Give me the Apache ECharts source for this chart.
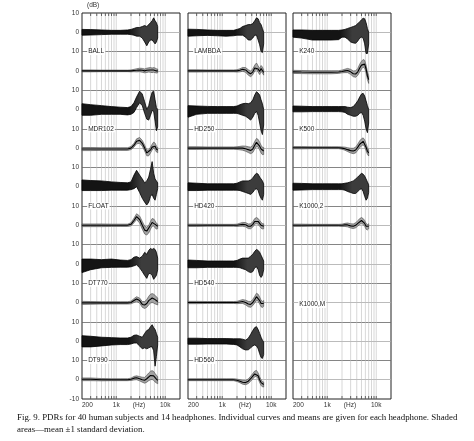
<!DOCTYPE html>
<html><head><meta charset="utf-8">
<script src="https://cdn.jsdelivr.net/npm/echarts@6/dist/echarts.min.js"></script>
<style>html,body{margin:0;padding:0;background:#fff}#c{width:474px;height:441px}</style>
</head><body><div id="c"></div>
<script>
// ---------- data ----------
const freqs = [200,300,500,800,1200,1700,2000,2300,2600,3000,3400,3800,4200,4600,5000,5400,5800,6200,6600,7000];
const gridFreqs = [300,400,500,600,700,800,900,1000,2000,3000,4000,5000,6000,7000,8000,9000,10000];
const xTickLabels = {200:'200',1000:'1k',10000:'10k'};
const columnNames = [
  ['BALL','MDR102','FLOAT','DT770','DT990'],
  ['LAMBDA','HD250','HD420','HD540','HD560'],
  ['K240','K500','K1000,2','K1000,M']
];
const captionLine1 = 'Fig. 9. PDRs for 40 human subjects and 14 headphones. Individual curves and means are given for each headphone. Shaded';
const captionLine2 = 'areas\u2014mean \u00b11 standard deviation.';

const ballHi   = [1.5,1.4,1.2,1.0,1.0,1.2,1.5,2.0,2.5,2.5,3.0,3.5,3.0,4.0,5.0,6.0,7.5,6.0,5.0,3.0];
const ballLo   = [-1.5,-1.4,-1.2,-1.0,-1.0,-1.0,-1.2,-1.5,-2.0,-2.0,-3.0,-5.0,-7.0,-5.0,-4.0,-4.0,-5.0,-6.0,-5.0,-3.0];
const ballMean = [0,0,0,0,0,0,0,0.2,0.3,0.5,0.3,0,0.3,0.5,0.5,0.3,0.5,0.3,0,0];
const ballSd   = [0.5,0.5,0.4,0.4,0.4,0.4,0.5,0.6,0.8,0.9,1.0,1.0,1.1,1.1,1.2,1.2,1.2,1.2,1.1,1.0];

const mdrHi   = [3,2.5,2,1.5,1.2,1,1.5,3.5,6.5,9.5,8,4,0,2,6,9,9.5,5,1,0];
const mdrLo   = [-3,-3,-2.5,-2.5,-2.5,-2.8,-2.5,-1.5,1,3.5,2,-2,-5,-5.5,-3,-0.5,-1,-6,-11,-9];
const mdrMean = [-0.5,-0.5,-0.5,-0.5,-0.5,-0.5,0,1.5,3.5,4,2.5,0,-2.5,-2.5,-1,0.5,1.5,1,-0.5,-1];
const mdrSd   = [0.8,0.8,0.7,0.7,0.7,0.7,0.8,1,1.3,1.5,1.5,1.5,1.5,1.5,1.5,1.5,1.6,1.6,1.5,1.4];

const floatHi   = [3.5,3.2,3,2.5,2.2,2,2.5,6,8.5,6,4,2,3,5,9,13,7,4,3,2];
const floatLo   = [-2,-2,-2,-1.8,-1.8,-1.8,-1.5,-1,0,-3,-6,-8,-9.5,-8,-5,-4,-6,-7,-4,-1];
const floatMean = [0,0,0,0,0,0,0.5,2.5,4.5,3,0,-2.5,-3,-2,0,1.5,1.5,0.5,-0.5,-0.5];
const floatSd   = [0.7,0.7,0.7,0.6,0.6,0.6,0.8,1.2,1.5,1.8,2,2,2,2,2,2,1.8,1.8,1.5,1.2];

const dt770Hi   = [2.5,2.5,2.2,2.5,2,1.8,2.2,3.5,3.8,3,4,6,5,7,8,7.5,8,7.5,6,3];
const dt770Lo   = [-4.5,-3,-2,-1.8,-1.7,-1.7,-1.5,-1,-0.5,-2,-4,-6,-7.5,-5,-5,-6,-8,-7,-6,-3];
const dt770Mean = [-0.2,-0.2,-0.2,-0.2,-0.2,-0.2,0,1,1.8,1,-1,-1.3,-0.5,1,2,2.3,2,1.5,1,0.5];
const dt770Sd   = [0.8,0.7,0.6,0.6,0.6,0.6,0.7,1,1.2,1.3,1.5,1.8,2,2.2,2.3,2.3,2.3,2.2,2,1.8];

const dt990Hi   = [2.8,2.5,2,1.8,1.6,1.6,2,3,3.2,2.5,2,4,5.5,6,7.5,8.5,7,6,4,2];
const dt990Lo   = [-3,-3,-2.5,-2,-1.8,-1.8,-1.5,-1,-1,-2.5,-4,-3.5,-4,-3.5,-3,-3,-5,-13,-8,-2];
const dt990Mean = [0.2,0.2,0,0,0,0,0.2,0.8,1,0.5,0,-0.3,0.5,1.5,2.2,2.4,2,1,0.3,-0.3];
const dt990Sd   = [0.7,0.7,0.6,0.5,0.5,0.5,0.6,0.9,1,1.1,1.3,1.5,1.8,2,2.2,2.3,2.3,2.2,2,1.8];

const lambdaHi   = [1.6,1.5,1.2,1,1,1,1.5,2,3,3.5,4,4,4.5,6,7.5,7,5,4,2,0];
const lambdaLo   = [-2,-1.8,-1.6,-1.8,-2,-1.8,-1.5,-1.5,-1.5,-2.5,-4,-4,-3,-1.5,-1.5,-4,-6.5,-10,-10.5,-6];
const lambdaMean = [0,0,0,0,0,0,0,0.3,0.8,0.5,-0.8,-1.5,-0.5,1.5,2.5,1,-0.3,1.2,0.5,-0.8];
const lambdaSd   = [0.6,0.6,0.5,0.5,0.5,0.5,0.6,0.8,1,1.2,1.4,1.5,1.5,1.5,1.6,1.6,1.6,1.6,1.5,1.4];

const hd250Hi   = [2,1.8,1.6,1.5,1.5,1.5,1.8,2.5,3,3.2,3,3.5,5,7.5,9.2,8.5,7.5,5,3,0];
const hd250Lo   = [-4,-2.5,-2,-2,-2,-2,-2,-2.5,-3,-3.5,-4.5,-5.5,-4,-2,-1,-3,-7,-11,-13,-8];
const hd250Mean = [0,0,0,0,0,0,0,0,0,-0.3,-0.8,-1.2,-0.5,1.5,3,2.5,1,-0.5,-1.5,-1.5];
const hd250Sd   = [0.7,0.7,0.6,0.6,0.6,0.6,0.7,0.9,1.1,1.3,1.5,1.7,1.8,2,2,2,2,2,1.9,1.8];

const hd420Hi   = [2,1.8,1.5,1.5,1.5,1.5,1.8,2.5,3,3,3,3.5,4.5,6,7,6.5,5,4,3,1.5];
const hd420Lo   = [-2,-2,-1.8,-1.8,-1.8,-1.8,-1.8,-2,-2.5,-3,-3.5,-4,-3,-1.5,-1,-2,-4.5,-6,-7,-4];
const hd420Mean = [0,0,0,0,0,0,0,0.3,0.5,0.3,-0.5,-0.5,0.5,2,2.5,2,1,0,-0.5,-0.5];
const hd420Sd   = [0.6,0.6,0.5,0.5,0.5,0.5,0.6,0.8,1,1.1,1.2,1.3,1.4,1.5,1.5,1.5,1.5,1.5,1.4,1.3];

const hd540Hi   = [2,1.8,1.5,1.5,1.5,1.5,1.8,2.5,3,3,3,4,5,6.5,7.5,7,6,4.5,3,1.5];
const hd540Lo   = [-2,-2,-1.8,-1.8,-1.8,-1.8,-1.8,-2,-2.5,-3,-4,-4.5,-4,-2,-1.5,-3,-6,-7,-6,-3];
const hd540Mean = [0,0,0,0,0,0,0,0.3,0.5,0,-0.8,-1,0,1.5,3,2.5,1,-0.5,-1,-0.5];
const hd540Sd   = [0.6,0.6,0.5,0.5,0.5,0.5,0.6,0.8,1,1.2,1.4,1.5,1.6,1.7,1.8,1.8,1.8,1.7,1.6,1.5];

const hd560Hi   = [1.5,1.5,1.3,1.3,1.3,1.2,1.2,1.2,1,0.5,1.5,3.5,5.5,7,7.5,6,4,2,0.5,-0.5];
const hd560Lo   = [-1.6,-1.6,-1.5,-1.5,-1.5,-1.7,-2,-3,-4,-4.6,-4.5,-3.5,-2.5,-2,-2.5,-4,-6.5,-8.5,-9,-7];
const hd560Mean = [0,0,0,0,0,0,-0.3,-0.8,-1.3,-1.5,-0.8,0.5,1.8,3,3.3,2,0,-1.5,-2.3,-2.5];
const hd560Sd   = [0.5,0.5,0.5,0.5,0.5,0.5,0.6,0.8,1,1.1,1.2,1.3,1.4,1.5,1.5,1.5,1.5,1.5,1.4,1.3];

const k240Hi   = [1.2,1.2,1,1,1,1,1.2,1.5,2,2.5,3,3.5,4.5,5.5,6.5,7.3,7,5,2,0];
const k240Lo   = [-2.5,-3,-4,-4,-4,-3.8,-2.5,-2.5,-3.5,-5,-5.5,-5.7,-4.5,-3,-2.5,-3,-6,-11,-11,-6];
const k240Mean = [-0.5,-0.6,-0.7,-0.7,-0.7,-0.6,-0.3,0,0.2,-0.5,-1.5,-1.6,-0.5,1.5,3,3.9,3.5,1,-2.5,-4.5];
const k240Sd   = [0.8,0.8,0.8,0.8,0.8,0.7,0.7,0.9,1.1,1.3,1.5,1.7,1.8,2,2,2,2,2,2,2];

const k500Hi   = [1.8,1.7,1.5,1.5,1.5,1.5,1.5,1.5,1.2,1,1.5,3,4.5,6.5,8,8.4,7,4.5,2,0];
const k500Lo   = [-1.2,-1.2,-1.1,-1.1,-1.1,-1.1,-1.2,-1.5,-2.5,-3,-3.5,-3.5,-3,-2,-1.5,-3,-6,-10,-12,-7];
const k500Mean = [0.2,0.2,0.2,0.2,0.2,0.2,0,-0.3,-0.8,-1.3,-1.5,-1,0.5,2,3,3.5,2.5,0.5,-1.5,-2.5];
const k500Sd   = [0.6,0.6,0.5,0.5,0.5,0.5,0.6,0.8,1,1.2,1.4,1.5,1.6,1.8,1.8,1.8,1.8,1.8,1.7,1.6];

const k1000_2Hi   = [1.8,1.7,1.5,1.5,1.5,1.5,1.5,1.8,2,2.5,3,4,5,6,7,6.5,5.5,4,2.5,1];
const k1000_2Lo   = [-1.8,-1.7,-1.5,-1.5,-1.5,-1.5,-1.5,-1.8,-2.5,-3,-3.5,-3.5,-2.5,-1.5,-1,-2.5,-5,-7,-6,-3];
const k1000_2Mean = [0,0,0,0,0,0,0,0.2,0.2,-0.3,-0.5,0,1,2,2.5,2,1,-0.5,-1,-0.5];
const k1000_2Sd   = [0.6,0.6,0.5,0.5,0.5,0.5,0.6,0.8,1,1.1,1.2,1.3,1.4,1.5,1.5,1.5,1.5,1.5,1.4,1.3];

const curves = {
  'BALL':   {hi: ballHi, lo: ballLo, mean: ballMean, sd: ballSd},
  'MDR102': {hi: mdrHi, lo: mdrLo, mean: mdrMean, sd: mdrSd},
  'FLOAT':  {hi: floatHi, lo: floatLo, mean: floatMean, sd: floatSd},
  'DT770':  {hi: dt770Hi, lo: dt770Lo, mean: dt770Mean, sd: dt770Sd},
  'DT990':  {hi: dt990Hi, lo: dt990Lo, mean: dt990Mean, sd: dt990Sd},
  'LAMBDA': {hi: lambdaHi, lo: lambdaLo, mean: lambdaMean, sd: lambdaSd},
  'HD250':  {hi: hd250Hi, lo: hd250Lo, mean: hd250Mean, sd: hd250Sd},
  'HD420':  {hi: hd420Hi, lo: hd420Lo, mean: hd420Mean, sd: hd420Sd},
  'HD540':  {hi: hd540Hi, lo: hd540Lo, mean: hd540Mean, sd: hd540Sd},
  'HD560':  {hi: hd560Hi, lo: hd560Lo, mean: hd560Mean, sd: hd560Sd},
  'K240':   {hi: k240Hi, lo: k240Lo, mean: k240Mean, sd: k240Sd},
  'K500':   {hi: k500Hi, lo: k500Lo, mean: k500Mean, sd: k500Sd},
  'K1000,2':{hi: k1000_2Hi, lo: k1000_2Lo, mean: k1000_2Mean, sd: k1000_2Sd},
  'K1000,M': null
};

// ---------- chart ----------
const chart = echarts.init(document.getElementById('c'), null, {renderer:'canvas'});
const FONT = 'Liberation Sans';
const gridLefts = [82, 188, 293];
const Y_MIN = -190, Y_MAX = 10;

const grids = [], xAxes = [], yAxes = [], series = [];

function polySeries(g, hiArr, loArr, off, style, z) {
  return {
    type: 'custom', xAxisIndex: g, yAxisIndex: g, silent: true, z: z,
    data: [[1000, off]],
    renderItem: (params, api) => {
      const pts = [];
      for (let i = 0; i < freqs.length; i++) pts.push(api.coord([freqs[i], hiArr[i] + off]));
      for (let i = freqs.length - 1; i >= 0; i--) pts.push(api.coord([freqs[i], loArr[i] + off]));
      return {type: 'polygon', shape: {points: pts}, style: style};
    }
  };
}

gridLefts.forEach((left, g) => {
  grids.push({left: left, top: 13, width: 98, height: 386, show: true,
              borderColor: '#222', borderWidth: 1, backgroundColor: 'transparent'});
  xAxes.push({
    type: 'log', logBase: 10, min: 200, max: 20000, gridIndex: g,
    axisLine: {show: false}, axisTick: {show: false}, splitLine: {show: false},
    axisLabel: {
      fontSize: 6.5, fontFamily: FONT, color: '#333', margin: 3,
      alignMinLabel: 'left', showMaxLabel: false,
      formatter: v => xTickLabels[Math.round(v)] || ''
    },
    name: '(Hz)', nameLocation: 'middle', nameGap: 3, nameMoveOverlap: false,
    nameTextStyle: {fontSize: 6.5, fontFamily: FONT, color: '#333', padding: [0, 0, 0, 16], verticalAlign: 'top'}
  });
  yAxes.push({
    type: 'value', min: Y_MIN, max: Y_MAX, interval: 10, gridIndex: g,
    axisLine: {show: false}, axisTick: {show: false},
    axisLabel: {
      show: g === 0, fontSize: 6.5, fontFamily: FONT, color: '#333', margin: 3,
      formatter: v => v === Y_MAX ? '10' : (v === Y_MIN ? '-10' : (Math.round(v) % 20 === 0 ? '0' : '10'))
    },
    splitLine: {show: true, showMinLine: false, showMaxLine: false,
                lineStyle: {color: ['#aaa', '#666'], width: 0.8}}
  });

  // vertical log grid lines + short edge ticks
  series.push({
    type: 'custom', xAxisIndex: g, yAxisIndex: g, silent: true, z: 1,
    data: gridFreqs.map(f => [f, 0]),
    renderItem: (params, api) => {
      const f = api.value(0);
      const t = api.coord([f, Y_MAX]), b = api.coord([f, Y_MIN]);
      return {type: 'group', children: [
        {type: 'line', shape: {x1: t[0], y1: t[1], x2: b[0], y2: b[1]}, style: {stroke: '#bdbdbd', lineWidth: 0.6}},
        {type: 'line', shape: {x1: t[0], y1: t[1], x2: t[0], y2: t[1] + 3}, style: {stroke: '#444', lineWidth: 0.8}},
        {type: 'line', shape: {x1: b[0], y1: b[1], x2: b[0], y2: b[1] - 3}, style: {stroke: '#444', lineWidth: 0.8}}
      ]};
    }
  });

  columnNames[g].forEach((name, s) => {
    const offInd = -40 * s;        // zero of individual-curve trace
    const offMean = -40 * s - 20;  // zero of mean trace
    const c = curves[name];
    if (c) {
      const indFill = new echarts.graphic.LinearGradient(0, 0, 1, 0, [
        {offset: 0, color: '#141414'}, {offset: 0.62, color: '#141414'},
        {offset: 0.78, color: '#3c3c3c'}, {offset: 1, color: '#3c3c3c'}]);
      series.push(polySeries(g, c.hi, c.lo, offInd, {fill: indFill, stroke: '#000', lineWidth: 0.8}, 3));
      const up = c.mean.map((m, i) => m + c.sd[i]);
      const dn = c.mean.map((m, i) => m - c.sd[i]);
      series.push(polySeries(g, up, dn, offMean, {fill: '#a3a3a3', stroke: '#444', lineWidth: 0.6}, 3));
      series.push({
        type: 'line', xAxisIndex: g, yAxisIndex: g, silent: true, z: 4,
        symbol: 'none', showSymbol: false,
        lineStyle: {color: '#000', width: 1.1},
        data: freqs.map((f, i) => [f, c.mean[i] + offMean])
      });
    }
    const labelVal = name === 'K1000,M' ? -141 : offInd - 10;
    series.push({
      type: 'custom', xAxisIndex: g, yAxisIndex: g, silent: true, z: 6,
      data: [[255, labelVal]],
      renderItem: (params, api) => {
        const p = api.coord([api.value(0), api.value(1)]);
        return {type: 'text', x: p[0], y: p[1],
                style: {text: name, font: '6.5px "Liberation Sans"', fill: '#222',
                        align: 'left', verticalAlign: 'middle',
                        backgroundColor: '#fff', padding: [0, 1]}};
      }
    });
  });
});

chart.setOption({
  animation: false,
  backgroundColor: '#fff',
  grid: grids, xAxis: xAxes, yAxis: yAxes, series: series,
  graphic: [
    {type: 'text', left: 87, top: 2, style: {text: '(dB)', font: '6.5px "Liberation Sans"', fill: '#333'}},
    {type: 'text', left: 17, top: 413, style: {text: captionLine1, font: '8.9px "Liberation Serif"', fill: '#111'}},
    {type: 'text', left: 17, top: 425, style: {text: captionLine2, font: '8.9px "Liberation Serif"', fill: '#111'}}
  ]
});
</script>
</body></html>
